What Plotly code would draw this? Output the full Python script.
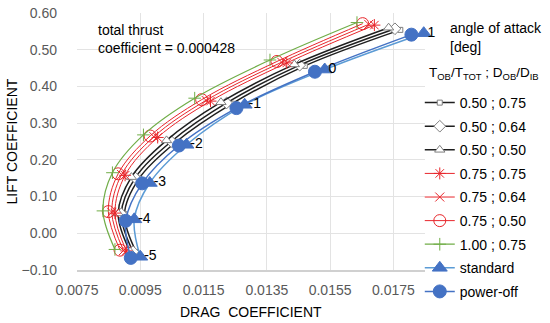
import plotly.graph_objects as go

alpha_labels = ["-5", "-4", "-3", "-2", "-1", "0", "1"]

# drag / lift coefficients for each configuration (T_OB/T_TOT ; D_OB/D_IB)
cd_050_075 = [0.00937, 0.00900, 0.00946, 0.01062, 0.01240, 0.01470, 0.01772]
cl_050_075 = [-0.051, 0.052, 0.149, 0.248, 0.353, 0.456, 0.554]
cd_050_064 = [0.00927, 0.00890, 0.00934, 0.01048, 0.01223, 0.01454, 0.01755]
cl_050_064 = [-0.050, 0.053, 0.151, 0.250, 0.355, 0.458, 0.557]
cd_050_050 = [0.00917, 0.00880, 0.00922, 0.01033, 0.01205, 0.01437, 0.01735]
cl_050_050 = [-0.049, 0.054, 0.153, 0.253, 0.357, 0.460, 0.560]
cd_075_075 = [0.00906, 0.00870, 0.00902, 0.01005, 0.01172, 0.01413, 0.01690]
cl_075_075 = [-0.048, 0.055, 0.158, 0.261, 0.360, 0.464, 0.567]
cd_075_064 = [0.00897, 0.00860, 0.00891, 0.00993, 0.01158, 0.01397, 0.01672]
cl_075_064 = [-0.047, 0.057, 0.160, 0.263, 0.362, 0.466, 0.569]
cd_075_050 = [0.00886, 0.00849, 0.00880, 0.00981, 0.01144, 0.01382, 0.01653]
cl_075_050 = [-0.046, 0.059, 0.162, 0.265, 0.364, 0.468, 0.571]
cd_100_075 = [0.00870, 0.00832, 0.00862, 0.00960, 0.01122, 0.01360, 0.01635]
cl_100_075 = [-0.044, 0.061, 0.165, 0.268, 0.368, 0.472, 0.574]
cd_standard = [0.00950, 0.00931, 0.00980, 0.01096, 0.01280, 0.01533, 0.01846]
cl_standard = [-0.064, 0.038, 0.137, 0.241, 0.350, 0.446, 0.545]
cd_poweroff = [0.00920, 0.00904, 0.00956, 0.01072, 0.01254, 0.01502, 0.01807]
cl_poweroff = [-0.067, 0.034, 0.136, 0.239, 0.341, 0.440, 0.541]

FONT = "Liberation Sans"
fig = go.Figure()

def add(name, x, y, lcolor, lwidth, symbol, msize, mcolor, mline, mlw, group):
    fig.add_trace(go.Scatter(
        x=x, y=y, name=name, mode="lines+markers",
        line=dict(color=lcolor, width=lwidth, shape="spline", smoothing=1),
        marker=dict(symbol=symbol, size=msize, color=mcolor,
                    line=dict(color=mline, width=mlw)),
        legendgroup=group, cliponaxis=False))

add("0.50 ; 0.75", cd_050_075, cl_050_075, "#1f1f1f", 1.5, "square", 5, "white", "#7f7f7f", 1, "a")
add("0.50 ; 0.64", cd_050_064, cl_050_064, "#1f1f1f", 1.5, "diamond", 9, "white", "#7f7f7f", 1, "b")
add("0.50 ; 0.50", cd_050_050, cl_050_050, "#1f1f1f", 1.5, "triangle-up", 9, "white", "#7f7f7f", 1, "c")
add("0.75 ; 0.75", cd_075_075, cl_075_075, "#e8262b", 1, "asterisk-open", 10, "#e8262b", "#e8262b", 1, "d")
add("0.75 ; 0.64", cd_075_064, cl_075_064, "#e8262b", 1, "x-thin-open", 9, "#e8262b", "#e8262b", 1, "e")
add("0.75 ; 0.50", cd_075_050, cl_075_050, "#e8262b", 1, "circle-open", 12, "#e8262b", "#e8262b", 1, "f")
add("1.00 ; 0.75", cd_100_075, cl_100_075, "#70ad47", 1.2, "cross-thin-open", 9, "#70ad47", "#70ad47", 1, "g")
add("standard", cd_standard, cl_standard, "#5b9bd5", 1.5, "triangle-up", 13, "#4472c4", "#4472c4", 1, "h")
add("power-off", cd_poweroff, cl_poweroff, "#4472c4", 1.5, "circle", 13, "#4472c4", "#4472c4", 1, "i")

# angle-of-attack labels next to the standard points
fig.add_trace(go.Scatter(
    x=cd_standard, y=cl_standard, mode="text", text=[" " + a for a in alpha_labels],
    textposition="middle right", textfont=dict(family=FONT, size=14, color="#000000"),
    showlegend=False, cliponaxis=False, hoverinfo="skip"))

fig.update_layout(
    width=550, height=323,
    margin=dict(l=77, r=125, t=13, b=53, autoexpand=False),
    paper_bgcolor="white", plot_bgcolor="white",
    font=dict(family=FONT, size=14, color="#000000"),
    showlegend=True,
    legend=dict(x=0.985, xanchor="left", y=0.712, yanchor="top",
                font=dict(family=FONT, size=14, color="#000000"),
                tracegroupgap=2.4, itemwidth=30, bgcolor="rgba(0,0,0,0)",
                maxheight=600),
    xaxis=dict(range=[0.0075, 0.0185], tick0=0.0075, dtick=0.002, tickformat=".4f",
               showgrid=True, gridcolor="#e3e3e3", gridwidth=1, zeroline=False,
               showline=True, linecolor="#d0d0d0", linewidth=2,
               tickfont=dict(family=FONT, size=14, color="#595959"),
               ticks="", ticklabelstandoff=6, automargin=False),
    yaxis=dict(range=[-0.1, 0.6], dtick=0.1, tickformat=".2f",
               showgrid=True, gridcolor="#e3e3e3", gridwidth=1, zeroline=False,
               showline=False,
               tickfont=dict(family=FONT, size=14, color="#595959"),
               ticks="", ticklabelstandoff=19, automargin=False),
    annotations=[
        dict(text="LIFT COEFFICIENT", xref="paper", yref="paper", x=-0.187, y=0.5,
             textangle=-90, xanchor="center", yanchor="middle", showarrow=False,
             font=dict(family=FONT, size=14, color="#000000")),
        dict(text="DRAG\u00a0 COEFFICIENT", xref="paper", yref="paper", x=0.5, y=-0.162,
             xanchor="center", yanchor="middle", showarrow=False,
             font=dict(family=FONT, size=14, color="#000000")),
        dict(text="total thrust<br>coefficient = 0.000428", xref="paper", yref="paper",
             x=0.0546, y=0.899, xanchor="left", yanchor="middle", align="left",
             showarrow=False, font=dict(family=FONT, size=14, color="#000000")),
        dict(text="angle of attack", xref="paper", yref="paper",
             x=1.066, y=0.9416, xanchor="left", yanchor="middle", showarrow=False,
             font=dict(family=FONT, size=14, color="#000000")),
        dict(text="[deg]", xref="paper", yref="paper",
             x=1.066, y=0.8677, xanchor="left", yanchor="middle", showarrow=False,
             font=dict(family=FONT, size=14, color="#000000")),
        dict(text="T<sub>OB</sub>/T<sub>TOT</sub> ; D<sub>OB</sub>/D<sub>IB</sub>",
             xref="paper", yref="paper",
             x=1.0057, y=0.7665, xanchor="left", yanchor="middle", showarrow=False,
             font=dict(family=FONT, size=13.5, color="#000000")),
    ],
)

fig.write_html("out.html", config={"displayModeBar": False},
               post_script="document.body.style.margin='0';document.body.style.overflow='hidden';")
